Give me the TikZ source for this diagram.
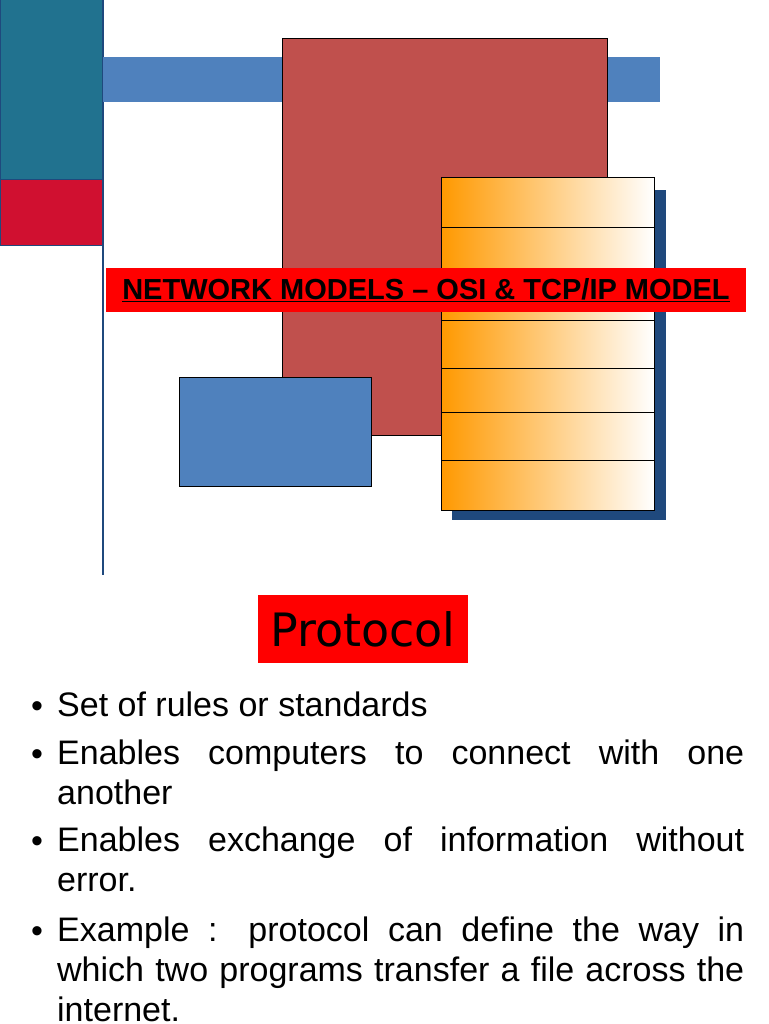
\documentclass[tikz,border=0pt]{standalone}
\usepackage{fontspec}
\setmainfont{Liberation Sans}
\newfontfamily\comic{DejaVu Sans}
\hyphenpenalty=10000
\definecolor{teal1}{HTML}{21728F}
\definecolor{crim}{HTML}{D01030}
\definecolor{dblue}{HTML}{1F497D}
\definecolor{mblue}{HTML}{4F81BD}
\definecolor{bred}{HTML}{C0504D}
\definecolor{orng}{HTML}{FF9900}
\tikzset{blk/.style={draw=dblue,line width=1pt},
 item/.style={anchor=north west,text width=687pt,align=justify,inner sep=0pt,font=\fontsize{34}{40}\selectfont}}
\begin{document}
\begin{tikzpicture}[x=1pt,y=-1pt]
\useasboundingbox (0,0) rectangle (768,1024);
\fill[white] (0,0) rectangle (768,1024);
\draw[blk,fill=teal1] (0,0) rectangle (103,180);
\draw[blk,fill=crim] (0,180) rectangle (103,245);
\draw[dblue,line width=1.5pt] (103,0) -- (103,575);
\fill[mblue] (103,57) rectangle (282,102);
\fill[mblue] (607,57) rectangle (660,102);
\draw[black,fill=bred] (282,38) rectangle (607,435);
\fill[dblue] (452,190) rectangle (666,520);
\shade[left color=orng,right color=white] (441,178) rectangle (654,510);
\draw[black,line width=1pt] (441,178) rectangle (654,510);
\foreach \y in {227,320,368,412,460} \draw[black] (441,\y) -- (654,\y);
\node[draw=black,fill=mblue,minimum width=192pt,minimum height=109pt,inner sep=0pt] (b) at (275,431.5) {};
\node[fill=red,minimum width=640pt,minimum height=44pt,inner sep=0pt,font=\fontsize{29}{32}\selectfont\bfseries] (t) at (426,290) {\underline{NETWORK MODELS -- OSI \& TCP/IP MODEL}};
\node[fill=red,minimum width=210pt,minimum height=68pt,inner sep=0pt,font=\comic\fontsize{46}{52}\selectfont] (p) at (363,629) {Protocol};
\node[item] (i1) at (57,692) {Set of rules or standards};
\node[item] (i2) at (57,740) {Enables computers to connect with one\linebreak another};
\node[item] (i3) at (57,827) {Enables exchange of information without\linebreak error.};
\node[item] (i4) at (57,917) {Example : protocol can define the way in\linebreak which two programs transfer a file across the\linebreak internet.};
\foreach \y in {710,758,845,935} \node[font=\fontsize{34}{36}\selectfont] at (37,\y) {•};
\end{tikzpicture}
\end{document}
